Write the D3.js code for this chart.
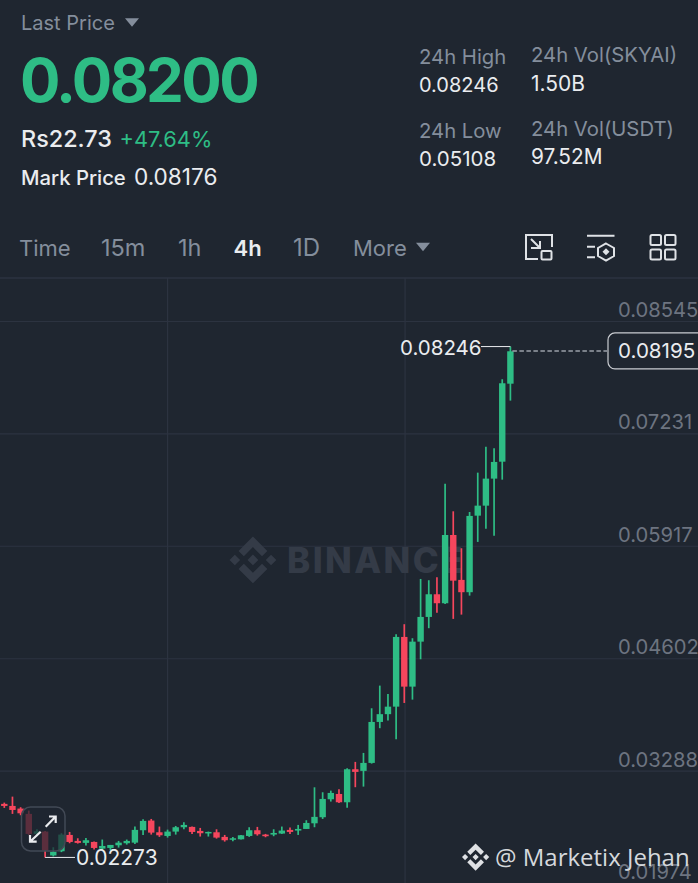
<!DOCTYPE html>
<html>
<head>
<meta charset="utf-8">
<script src="https://cdn.jsdelivr.net/npm/d3@7"></script>
<style>
  html, body { margin: 0; padding: 0; background: #1f2630; overflow: hidden; }
  svg { display: block; }
  text { font-family: Inter, Roboto, sans-serif; }
</style>
</head>
<body>
<div id="chart"></div>
<script>
// candle values, oldest first
const opens = [.02899,.02875,.02844,.02782,.02548,.02575,.02296,.02345,.02536,.02466,.02443,.02454,.02376,.02384,.02415,.02439,.02446,.02591,.02704,.02567,.02524,.02575,.02626,.02630,.02583,.02556,.02567,.02513,.02482,.02485,.02524,.02591,.02540,.02540,.02552,.02595,.02587,.02606,.02672,.02743,.02953,.03015,.02918,.03304,.03285,.03378,.03857,.03948,.04036,.04851,.04270,.04796,.05085,.05350,.05245,.06043,.05518,.05374,.06269,.06386,.06702,.06900,.07812];
const highs = [.02914,.02984,.02860,.02821,.02602,.02583,.02392,.02556,.02571,.02497,.02501,.02458,.02482,.02419,.02466,.02482,.02634,.02719,.02723,.02634,.02598,.02641,.02684,.02634,.02618,.02575,.02602,.02536,.02513,.02536,.02626,.02630,.02548,.02602,.02634,.02622,.02653,.02708,.03093,.03035,.03054,.03070,.03316,.03390,.03495,.04017,.04282,.04185,.04883,.05000,.04836,.05529,.05514,.05549,.06643,.06320,.05888,.06312,.06772,.07076,.07057,.07864,.08246];
const lows = [.02852,.02782,.02766,.02536,.02517,.02273,.02285,.02335,.02439,.02435,.02411,.02365,.02361,.02357,.02388,.02423,.02431,.02536,.02540,.02513,.02505,.02540,.02602,.02548,.02517,.02517,.02493,.02458,.02462,.02482,.02513,.02528,.02509,.02521,.02548,.02548,.02536,.02606,.02626,.02723,.02926,.02910,.02855,.03094,.03101,.03370,.03784,.03873,.03655,.04079,.04118,.04590,.04953,.05135,.05237,.05062,.05112,.05334,.05962,.06117,.06035,.06690,.07614];
const closes = [.02875,.02828,.02789,.02548,.02579,.02353,.02340,.02540,.02454,.02443,.02474,.02384,.02407,.02419,.02446,.02466,.02595,.02700,.02563,.02532,.02575,.02626,.02653,.02571,.02556,.02571,.02505,.02474,.02497,.02532,.02591,.02544,.02521,.02559,.02587,.02571,.02606,.02676,.02747,.02957,.03027,.02918,.03304,.03273,.03378,.03857,.03948,.04036,.04851,.04270,.04796,.05085,.05350,.05245,.06043,.05509,.05374,.06266,.06386,.06702,.06897,.07817,.08191];

const priceTicks = [0.08545, 0.07231, 0.05917, 0.04602, 0.03288, 0.01974];
const timeGrid = [20, 49.1];
const highLabel = "0.08246", lowLabel = "0.02273", lastPrice = 0.08195;

const stats = [
  ["24h High", "0.08246", 419, 64, 92, 20],
  ["24h Vol(SKYAI)", "1.50B", 531, 62, 91, 21],
  ["24h Low", "0.05108", 419, 138, 166, 20.5],
  ["24h Vol(USDT)", "97.52M", 531, 136, 164, 20.8]
];
const tabs = [["Time", 19, 22], ["15m", 101, 23.5], ["1h", 178, 23.5], ["4h", 233.5, 22], ["1D", 293, 24], ["More", 353, 22]];

const width = 698, height = 883;
const GREEN = "#2ebd85", RED = "#f6465d", GRAY = "#848e9c", WHITE = "#eaecef", GRID = "#2c3340";
const LOGO = "M38.73 53.2l24.59-24.58 24.6 24.6 14.3-14.31L63.32 0 24.42 38.9zM0 63.31l14.3-14.31 14.31 14.31-14.31 14.3zM38.73 73.41l24.59 24.59 24.6-24.6 14.31 14.29L63.32 126.61l-38.9-38.9-.02-.02zM98 63.31l14.3-14.31 14.31 14.3-14.3 14.31zM77.83 63.3L63.32 48.78 52.59 59.51l-1.24 1.23-2.54 2.54 14.51 14.5 14.51-14.47z";

const svg = d3.select("#chart").append("svg").attr("width", width).attr("height", height);

function label(x, y, str, size, fill, weight) {
  return svg.append("text").attr("x", x).attr("y", y).text(str)
    .style("font-size", size + "px").style("fill", fill).style("font-weight", weight || 400);
}
function caret(cx, cy, w, h) {
  svg.append("path").attr("d", `M${cx - w / 2} ${cy - h / 2}h${w}l${-w / 2} ${h}z`).attr("fill", GRAY);
}

// header
label(21, 30, "Last Price", 20, GRAY, 400);
caret(132, 22.5, 14, 8.5);
label(20, 101.5, "0.08200", 60, GREEN, 700).style("letter-spacing", "-2.6px");
label(21, 147, "Rs22.73", 23.4, WHITE, 500);
label(119.5, 147, "+47.64%", 21.8, GREEN, 400);
label(21, 185, "Mark Price", 20.3, WHITE, 500);
label(134, 185, "0.08176", 22.6, WHITE, 400);
stats.forEach(s => {
  label(s[2], s[3], s[0], 20.3, GRAY, 400);
  label(s[2], s[4], s[1], s[5], WHITE, 400);
});

// interval tabs
tabs.forEach(t => label(t[1], 256, t[0], t[2], t[0] === "4h" ? WHITE : GRAY, t[0] === "4h" ? 600 : 400));
caret(423, 247, 14, 8.5);
svg.append("line").attr("x1", 0).attr("x2", width).attr("y1", 278).attr("y2", 278).attr("stroke", GRID).attr("stroke-width", 1.5);

// toolbar icons
const icons = svg.append("g").attr("fill", "none").attr("stroke", "#dfe2e6").attr("stroke-width", 2);
icons.append("path").attr("d", "M552 247V235H526V259H538");
icons.append("rect").attr("x", 541.5).attr("y", 251).attr("width", 10).attr("height", 8.5).attr("rx", 1);
icons.append("path").attr("d", "M531 239L540 248M531 248H540V241");
icons.append("path").attr("d", "M587 235.7H614.5M587 246.7H595M587 257.3H595");
icons.append("path").attr("d", "M606 243.5L614 248V256L606 260.5L598 256V248z");
icons.append("path").attr("d", "M606 248.2L609.5 251.7L606 255.2L602.5 251.7z").attr("fill", "#dfe2e6").attr("stroke", "none");
[[650.5, 235], [665, 235], [650.5, 249.5], [665, 249.5]].forEach(p =>
  icons.append("rect").attr("x", p[0]).attr("y", p[1]).attr("width", 10.5).attr("height", 10).attr("rx", 1.5));

// scales
const x = d3.scaleLinear().domain([0, opens.length - 1]).range([4.3, 510.4]);
const y = d3.scaleLinear().domain([0.01974, 0.08545]).range([883, 321]);

// price axis, labels sit above their grid line
const axis = svg.append("g").call(
  d3.axisRight(y).tickValues(priceTicks).tickFormat(d3.format(".5f")).tickSize(width).tickPadding(0)
);
axis.select(".domain").remove();
axis.selectAll(".tick line").attr("stroke", GRID).attr("stroke-width", 1.2);
axis.selectAll(".tick text").attr("x", 618).attr("dy", "-0.22em").style("font-size", "20.2px").style("fill", "#6d7480")
  .style("font-family", "Inter, Roboto, sans-serif");

svg.selectAll("line.vgrid").data(timeGrid).enter().append("line")
  .attr("class", "vgrid")
  .attr("x1", d => x(d)).attr("x2", d => x(d))
  .attr("y1", 278).attr("y2", height)
  .attr("stroke", GRID).attr("stroke-width", 1.2);

// watermark
svg.append("path").attr("d", LOGO).attr("fill", "#343b47")
  .attr("transform", "translate(229.5,536.5) scale(0.37)");
label(287, 573, "BINANCE", 35, "#343b47", 800).style("letter-spacing", "2.4px");

// candles
const idx = d3.range(opens.length);
const candles = svg.append("g");
candles.selectAll("line").data(idx).enter().append("line")
  .attr("x1", i => x(i)).attr("x2", i => x(i))
  .attr("y1", i => y(highs[i])).attr("y2", i => y(lows[i]))
  .attr("stroke", i => closes[i] >= opens[i] ? GREEN : RED)
  .attr("stroke-width", 1.7);
candles.selectAll("rect").data(idx).enter().append("rect")
  .attr("x", i => x(i) - 3.2)
  .attr("width", 6.4)
  .attr("y", i => y(Math.max(opens[i], closes[i])))
  .attr("height", i => Math.max(1.5, Math.abs(y(opens[i]) - y(closes[i]))))
  .attr("fill", i => closes[i] >= opens[i] ? GREEN : RED);

// last price
svg.append("line").attr("x1", x(62) + 2).attr("x2", 607)
  .attr("y1", y(lastPrice)).attr("y2", y(lastPrice))
  .attr("stroke", "#9aa0a8").attr("stroke-width", 1.4).attr("stroke-dasharray", "4.5 2.5");
svg.append("rect").attr("x", 608).attr("y", y(lastPrice) - 18).attr("width", 110).attr("height", 36).attr("rx", 7)
  .attr("fill", "#1f2630").attr("stroke", "#c9ccd1").attr("stroke-width", 1.2);
label(618, y(lastPrice) + 7.5, d3.format(".5f")(lastPrice), 20.6, WHITE, 400);

// high and low markers
svg.append("line").attr("x1", 481).attr("x2", x(62)).attr("y1", y(+highLabel)).attr("y2", y(+highLabel))
  .attr("stroke", "#eaecef").attr("stroke-width", 1);
label(400, y(+highLabel) + 8, highLabel, 20.5, WHITE, 400);
svg.append("line").attr("x1", x(5)).attr("x2", 75).attr("y1", y(+lowLabel)).attr("y2", y(+lowLabel))
  .attr("stroke", "#eaecef").attr("stroke-width", 1);
label(76, y(+lowLabel) + 8, lowLabel, 21, WHITE, 400);

// expand button
svg.append("rect").attr("x", 21.5).attr("y", 807).attr("width", 43.5).attr("height", 44).attr("rx", 9)
  .attr("fill", "#1f2630").attr("fill-opacity", 0.72).attr("stroke", "#424955").attr("stroke-width", 1.5);
svg.append("path").attr("d", "M45.7 826.7L55.7 816.5M49 816.5H55.7V823M30 841.7L40.7 831.7M30 835V841.7H36.7")
  .attr("fill", "none").attr("stroke", "#eaecef").attr("stroke-width", 2.2);

// footer watermark
svg.append("path").attr("d", LOGO).attr("fill", "#dfe1e4")
  .attr("transform", "translate(462,843.5) scale(0.215)");
label(495, 866, "@ Marketix Jehan", 24, "#d5d8dc", 400).style("font-family", "'Open Sans', sans-serif");
</script>
</body>
</html>
